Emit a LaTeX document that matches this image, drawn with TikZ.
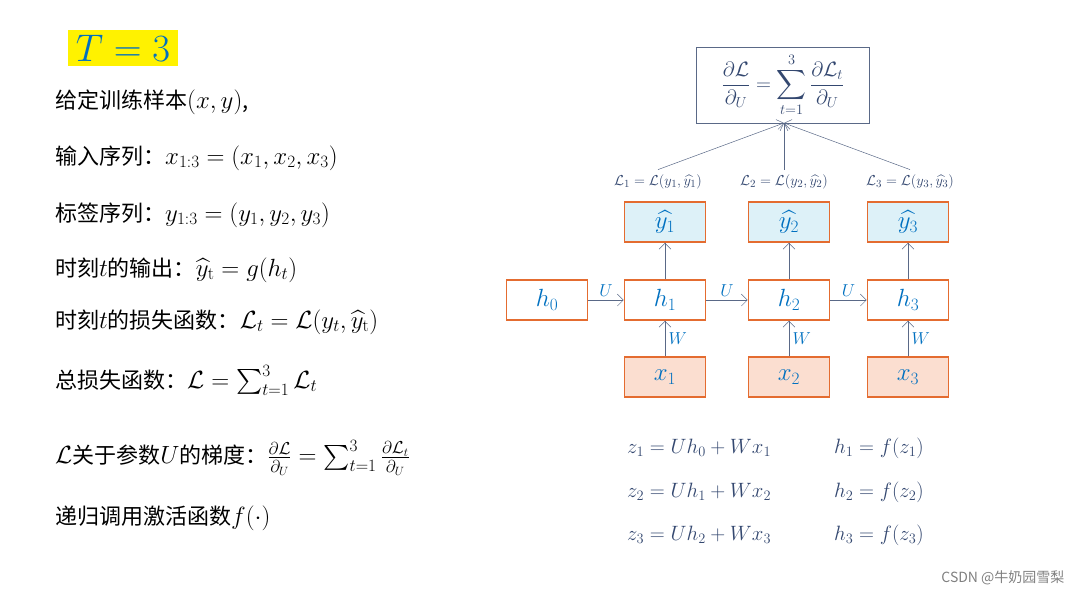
\documentclass[tikz,border=0pt]{standalone}
\usepackage{amsmath}
\usepackage{fontspec}
\newfontfamily\cjk{Noto Sans CJK SC}
\usetikzlibrary{arrows.meta}
\definecolor{org}{RGB}{228,108,48}
\definecolor{hb}{RGB}{0,112,192}
\definecolor{yfill}{RGB}{221,241,248}
\definecolor{xfill}{RGB}{251,222,208}
\definecolor{eqc}{RGB}{52,72,112}
\definecolor{gb}{RGB}{90,105,135}
\newcommand{\fs}[1]{\fontsize{#1}{#1}\selectfont}
\newcommand{\mm}[1]{{\fs{25}$#1$}}
\begin{document}
\begin{tikzpicture}[x=1pt,y=-1pt,
  rb/.style={draw=org,line width=1.6pt,minimum width=81pt,minimum height=40pt,inner sep=0pt,text=hb,font=\fs{25}},
  ar/.style={-{Straight Barb[length=6pt]},gb,line width=0.5pt},
  lt/.style={anchor=west,font=\cjk\fs{22},inner sep=0pt},
  wl/.style={text=hb,font=\fs{18}}]
\useasboundingbox (0,0) rectangle (1080,597);
\fill[yellow] (68,30) rectangle (178,66);
\node[text=hb,font=\fs{24},scale=1.55,inner sep=0pt] (T) at (123,48) {$T=3$};
\node[lt] (l1) at (55,102) {给定训练样本\mm{(x,y)},};
\node[lt] (l2) at (55,158) {输入序列：\mm{x_{1:3}=(x_1,x_2,x_3)}};
\node[lt] (l3) at (55,215) {标签序列：\mm{y_{1:3}=(y_1,y_2,y_3)}};
\node[lt] (l4) at (55,270) {时刻\mm{t}的输出：\mm{\widehat{y}_{\mathrm t}=g(h_t)}};
\node[lt] (l5) at (55,322) {时刻\mm{t}的损失函数：\mm{\mathcal{L}_t=\mathcal{L}(y_t,\widehat{y}_{\mathrm t})}};
\node[lt] (l6) at (55,380) {总损失函数：\mm{\mathcal{L}=\sum_{t=1}^{3}\mathcal{L}_t}};
\node[lt] (l7) at (55,458) {\mm{\mathcal{L}}关于参数\mm{U}的梯度：\mm{\frac{\partial\mathcal{L}}{\partial_U}=\sum_{t=1}^{3}\frac{\partial\mathcal{L}_t}{\partial_U}}};
\node[lt] (l8) at (55,518) {递归调用激活函数\mm{f(\cdot)}};

\node[rb] (h0) at (547,300) {$h_0$};
\node[rb] (h1) at (665,300) {$h_1$};
\node[rb] (h2) at (789,300) {$h_2$};
\node[rb] (h3) at (908,300) {$h_3$};
\node[rb,fill=yfill] (y1) at (665,222) {$\widehat{y_1}$};
\node[rb,fill=yfill] (y2) at (789,222) {$\widehat{y_2}$};
\node[rb,fill=yfill] (y3) at (908,222) {$\widehat{y_3}$};
\node[rb,fill=xfill] (x1) at (665,377) {$x_1$};
\node[rb,fill=xfill] (x2) at (789,377) {$x_2$};
\node[rb,fill=xfill] (x3) at (908,377) {$x_3$};
\draw[ar] (h0) -- node[wl,above]{$U$} (h1);
\draw[ar] (h1) -- node[wl,above]{$U$} (h2);
\draw[ar] (h2) -- node[wl,above]{$U$} (h3);
\foreach \i in {1,2,3}{
  \draw[ar] (x\i) -- node[wl,right]{$W$} (h\i);
  \draw[ar] (h\i) -- (y\i);
}
\node[draw=gb,line width=1pt,minimum width=173pt,minimum height=76pt,inner sep=0pt,text=eqc,font=\fs{22}] (top) at (783,85) {$\dfrac{\partial\mathcal{L}}{\partial_U}=\displaystyle\sum_{t=1}^{3}\dfrac{\partial\mathcal{L}_t}{\partial_U}$};
\node[text=eqc,font=\fs{15},inner sep=1pt] (L1) at (658,182) {$\mathcal{L}_1=\mathcal{L}(y_1,\widehat{y_1})$};
\node[text=eqc,font=\fs{15},inner sep=1pt] (L2) at (784,182) {$\mathcal{L}_2=\mathcal{L}(y_2,\widehat{y_2})$};
\node[text=eqc,font=\fs{15},inner sep=1pt] (L3) at (910,182) {$\mathcal{L}_3=\mathcal{L}(y_3,\widehat{y_3})$};
\coordinate (tp) at (784,123);
\draw[ar] (L1.north) ++(0,-4) -- (tp);
\draw[ar] (L2.north) ++(0,-4) -- (tp);
\draw[ar] (L3.north) ++(0,-4) -- (tp);
\foreach \i/\y in {1/448,2/492,3/535}{
  \pgfmathtruncatemacro{\j}{\i-1}
  \node[text=eqc,anchor=west,font=\fs{21},inner sep=0pt] (z\i) at (627,\y) {$z_\i=Uh_\j+Wx_\i$};
  \node[text=eqc,anchor=west,font=\fs{21},inner sep=0pt] (f\i) at (834,\y) {$h_\i=f(z_\i)$};
}
\node[text=gray,anchor=east,font=\cjk\fs{14}] (csdn) at (1068,578) {CSDN @牛奶园雪梨};
\end{tikzpicture}
\end{document}
